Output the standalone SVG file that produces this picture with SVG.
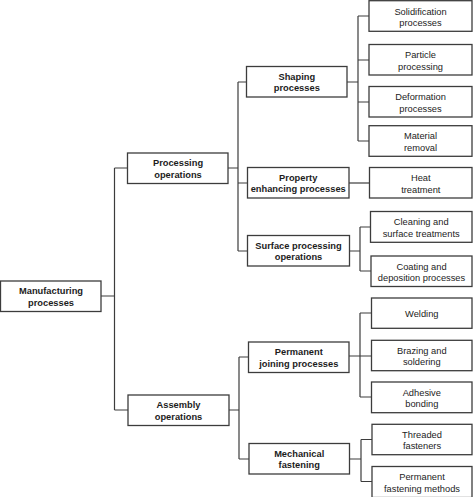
<svg xmlns="http://www.w3.org/2000/svg" width="474" height="497" viewBox="0 0 474 497">
<style>
rect{fill:#fff;stroke:#3c3c3c;stroke-width:1.3}
text{font-family:"Liberation Sans",Arial,sans-serif;font-size:9.3px;fill:#1c1c1c;text-anchor:middle}
.b text{font-weight:bold}
#connectors path{fill:none;stroke:#3c3c3c;stroke-width:1.2}
</style>
<rect x="0" y="0" width="474" height="497" style="fill:#fff;stroke:none"/>
<g id="connectors">
<path d="M101 296H114.5M114.5 168V410M114.5 168H127.5M114.5 410H128"/>
<path d="M228 168H238M238 82V251M238 82H246.5M238 183H247.5M238 251H247.5"/>
<path d="M347 82H358M358 16V141M358 16H369M358 60H369M358 102H369M358 141H369"/>
<path d="M349 183H369.5"/>
<path d="M349.5 251H360M360 227V271M360 227H370.5M360 271H371"/>
<path d="M229 410H239M239 357V459M239 357H248.5M239 459H249"/>
<path d="M349 356H360M360 313V397M360 313H371.5M360 356H371.5M360 397H371.5"/>
<path d="M349.5 459H361M361 439.5V481.5M361 439.5H372M361 481.5H372"/>
</g>
<g id="manufacturing" class="b"><rect x="0.5" y="281" width="100.5" height="30.5"/><text x="51" y="294">Manufacturing</text><text x="51" y="305.5">processes</text></g>
<g id="processing" class="b"><rect x="127.5" y="153" width="100.5" height="30.5"/><text x="178" y="166">Processing</text><text x="178" y="177.5">operations</text></g>
<g id="assembly" class="b"><rect x="128" y="395" width="101" height="30.5"/><text x="178.5" y="408">Assembly</text><text x="178.5" y="419.5">operations</text></g>
<g id="shaping" class="b"><rect x="246.5" y="66.5" width="100.5" height="30.5"/><text x="296.8" y="79.5">Shaping</text><text x="296.8" y="91">processes</text></g>
<g id="property" class="b"><rect x="247.5" y="167.5" width="101.5" height="30.5"/><text x="298.2" y="180.5">Property</text><text x="298.2" y="192">enhancing processes</text></g>
<g id="surface" class="b"><rect x="247.5" y="235.5" width="102" height="30.5"/><text x="298.5" y="248.5">Surface processing</text><text x="298.5" y="260">operations</text></g>
<g id="joining" class="b"><rect x="248.5" y="342" width="100.5" height="30.5"/><text x="298.8" y="355">Permanent</text><text x="298.8" y="366.5">joining processes</text></g>
<g id="mechanical" class="b"><rect x="249" y="443.5" width="100.5" height="30.5"/><text x="299.2" y="456.5">Mechanical</text><text x="299.2" y="468">fastening</text></g>
<g id="solidification"><rect x="369" y="0.7" width="103" height="30.6"/><text x="420.5" y="14.5">Solidification</text><text x="420.5" y="26">processes</text></g>
<g id="particle"><rect x="369" y="44.5" width="103" height="30.5"/><text x="420.5" y="58">Particle</text><text x="420.5" y="69.5">processing</text></g>
<g id="deformation"><rect x="369" y="86.5" width="103" height="30.5"/><text x="420.5" y="100">Deformation</text><text x="420.5" y="111.5">processes</text></g>
<g id="material"><rect x="369" y="125.7" width="103" height="30.6"/><text x="420.5" y="139">Material</text><text x="420.5" y="150.5">removal</text></g>
<g id="heat"><rect x="369.5" y="167.5" width="102.5" height="30.5"/><text x="420.8" y="181">Heat</text><text x="420.8" y="192.5">treatment</text></g>
<g id="cleaning"><rect x="370.5" y="211.5" width="101.5" height="30.8"/><text x="421.2" y="225">Cleaning and</text><text x="421.2" y="236.5">surface treatments</text></g>
<g id="coating"><rect x="371" y="256" width="101" height="30.5"/><text x="421.5" y="269.5">Coating and</text><text x="421.5" y="281">deposition processes</text></g>
<g id="welding"><rect x="371.5" y="298" width="100.5" height="30.3"/><text x="421.8" y="316.5">Welding</text></g>
<g id="brazing"><rect x="371.5" y="340.3" width="100.5" height="30.4"/><text x="421.8" y="353.5">Brazing and</text><text x="421.8" y="365">soldering</text></g>
<g id="adhesive"><rect x="371.5" y="382" width="100.5" height="30.7"/><text x="421.8" y="395.5">Adhesive</text><text x="421.8" y="407">bonding</text></g>
<g id="threaded"><rect x="372" y="424.3" width="100" height="30.4"/><text x="422" y="437.5">Threaded</text><text x="422" y="449">fasteners</text></g>
<g id="permfastening"><rect x="372" y="466.5" width="100" height="31"/><text x="422" y="480">Permanent</text><text x="422" y="491.5">fastening methods</text></g>
</svg>
